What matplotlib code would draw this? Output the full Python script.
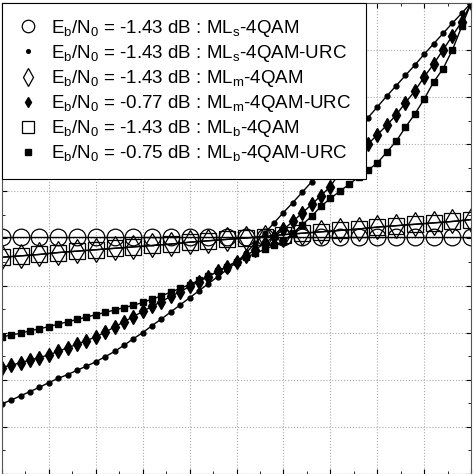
import numpy as np
import matplotlib
matplotlib.use("Agg")
import matplotlib.pyplot as plt

plt.rcParams['font.family'] = ['Liberation Sans', 'DejaVu Sans']
plt.rcParams['mathtext.default'] = 'regular'

# open-marker curves (step 0.04)
x_open = np.arange(26) * 0.04
y_mls = [0.502] * 26
y_open = [.460, .463, .466, .470, .473, .476, .479, .482, .485, .488, .492, .495, .498,
          .501, .504, .508, .511, .514, .517, .520, .524, .527, .530, .533, .536, .540]

# URC curves (step 0.02)
x_urc = np.arange(51) * 0.02
y_mls_urc = [.149, .157, .166, .175, .184, .194, .203, .211, .220, .229, .238, .249, .260,
             .273, .287, .300, .315, .329, .344, .359, .374, .389, .404, .419, .434, .449,
             .469, .490, .511, .533, .555, .576, .598, .620, .641, .662, .686, .709, .732,
             .756, .779, .802, .824, .846, .868, .891, .913, .935, .957, .978, 1.0]
y_mlm_urc = [.226, .231, .236, .242, .247, .253, .260, .268, .275, .283, .291, .301, .312,
             .323, .334, .345, .356, .366, .377, .387, .398, .408, .419, .430, .440, .451,
             .463, .476, .490, .504, .519, .536, .554, .572, .591, .610, .640, .660, .680,
             .700, .720, .740, .762, .788, .813, .843, .870, .900, .930, .960, 1.0]
y_mlb_urc = [.291, .295, .299, .304, .308, .313, .318, .323, .328, .333, .338, .343, .348,
             .353, .358, .364, .371, .378, .386, .394, .402, .411, .420, .430, .440, .451,
             .460, .468, .477, .485, .494, .511, .529, .547, .568, .585, .600, .615, .630,
             .645, .660, .683, .706, .736, .764, .796, .832, .860, .900, .950, 1.0]

eb = r'E$_{b}$/N$_{0}$'
labels = [eb + ' = -1.43 dB : ML$_{s}$-4QAM',
          eb + ' = -1.43 dB : ML$_{s}$-4QAM-URC',
          eb + ' = -1.43 dB : ML$_{m}$-4QAM',
          eb + ' = -0.77 dB : ML$_{m}$-4QAM-URC',
          eb + ' = -1.43 dB : ML$_{b}$-4QAM',
          eb + ' = -0.75 dB : ML$_{b}$-4QAM-URC']

fig = plt.figure(figsize=(4.74, 4.74), dpi=100)
ax = fig.add_axes([0.004, 0.0, 0.99, 0.994])

lw = 1.0
ax.plot(x_open, y_mls, 'k-', marker='o', mfc='none', ms=12, mew=0.9, lw=lw, label=labels[0])
ax.plot(x_urc, y_mls_urc, 'k-', marker='.', ms=7, lw=lw, label=labels[1])
ax.plot(x_open, y_open, 'k-', marker='d', mfc='none', ms=12, mew=0.9, lw=lw, label=labels[2])
ax.plot(x_urc, y_mlm_urc, 'k-', marker='d', ms=7, lw=lw, label=labels[3])
ax.plot(x_open, y_open, 'k-', marker='s', mfc='none', ms=11, mew=0.9, lw=lw, label=labels[4])
ax.plot(x_urc, y_mlb_urc, 'k-', marker='s', ms=5, lw=lw, label=labels[5])

ax.set_xlim(0, 1)
ax.set_ylim(0, 1)
ax.set_xticks(np.arange(0, 1.01, 0.1))
ax.set_yticks(np.arange(0, 1.01, 0.1))
ax.set_xticks(np.arange(0, 1.01, 0.05), minor=True)
ax.set_yticks(np.arange(0, 1.01, 0.05), minor=True)
ax.tick_params(which='both', direction='in', labelbottom=False, labelleft=False,
               top=True, right=True)
ax.grid(True, which='major', color='#aaaaaa', linestyle=':', linewidth=0.8)
for s in ax.spines.values():
    s.set_color('#555555')

leg = ax.legend(loc='upper left', fontsize=13.5, frameon=True, fancybox=False,
                edgecolor='black', framealpha=1, borderaxespad=0.0,
                handlelength=1.2, handletextpad=0.6, labelspacing=0.22,
                borderpad=0.8, markerscale=0.75)
for h in leg.legend_handles:
    h.set_linestyle('none')
leg.get_frame().set_linewidth(0.8)

fig.savefig('out.png', dpi=100)
